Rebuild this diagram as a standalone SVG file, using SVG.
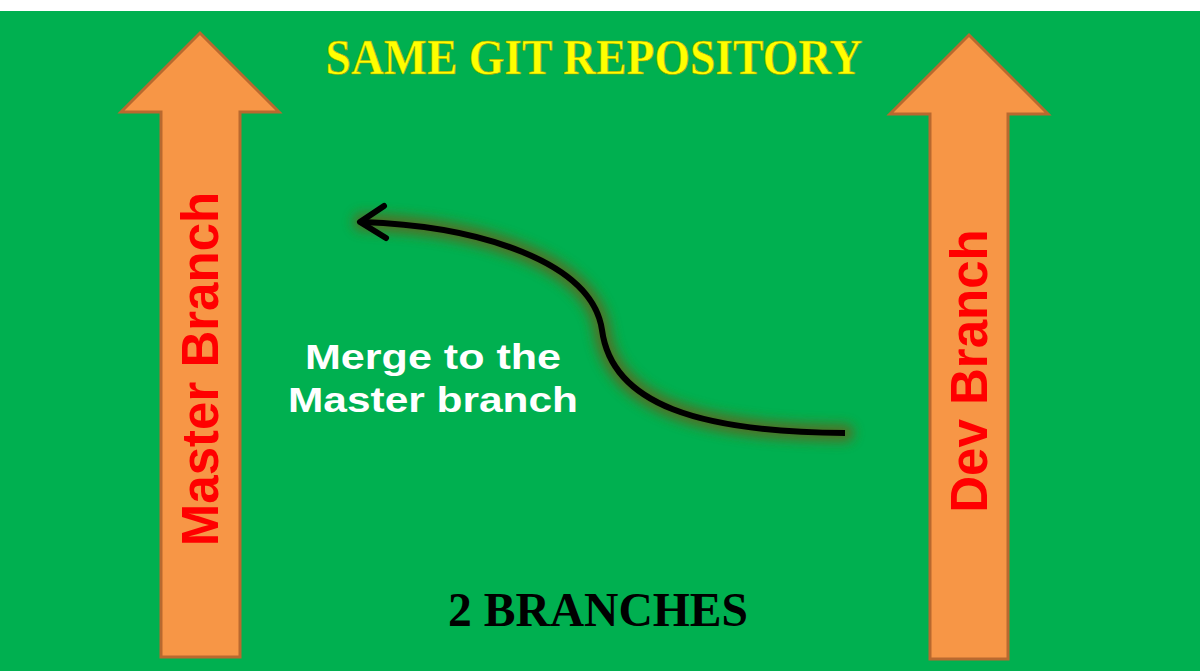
<svg xmlns="http://www.w3.org/2000/svg" width="1200" height="671" viewBox="0 0 1200 671">
<defs>
<style>
.arrow{fill:#F79646;stroke:#B9692F;stroke-width:3}
.br{font-family:"Liberation Sans",Arial,sans-serif;font-weight:bold;font-size:51px;fill:#FF0000;text-anchor:middle}
.title{font-family:"Liberation Serif","Times New Roman",serif;font-weight:bold;text-anchor:middle}
.merge{font-family:"Liberation Sans",Arial,sans-serif;font-weight:bold;font-size:35px;fill:#fff;text-anchor:middle}
</style>
<filter id="glow" x="-20%" y="-20%" width="140%" height="140%"><feGaussianBlur stdDeviation="6"/></filter>
</defs>
<rect width="1200" height="671" fill="#fff"/>
<rect y="11" width="1200" height="660" fill="#00B050"/>
<g id="master">
<polygon class="arrow" points="200,33 279,112 240,112 240,657 161,657 161,112 121,112"/>
<text class="br" transform="translate(218,369) rotate(-90)">Master Branch</text>
</g>
<g id="dev">
<polygon class="arrow" points="969,35 1048,114 1008,114 1008,659 930,659 930,114 890,114"/>
<text class="br" transform="translate(987,371) rotate(-90)">Dev Branch</text>
</g>
<g id="connectors">
<path d="M845,433 C700,432 612,405 602,330 C592,262 480,226 362,222" fill="none" stroke="#5a6a20" stroke-width="18" stroke-linecap="round" filter="url(#glow)" opacity="0.9"/>
<path d="M845,433 C700,432 612,405 602,330 C592,262 480,226 362,222" fill="none" stroke="#000" stroke-width="6"/>
<path d="M384,206 L360,222 L386,238" fill="none" stroke="#000" stroke-width="6" stroke-linecap="round" stroke-linejoin="round"/>
</g>
<g id="merge-label">
<text class="merge" x="433" y="369" textLength="256" lengthAdjust="spacingAndGlyphs">Merge to the</text>
<text class="merge" x="433" y="412" textLength="290" lengthAdjust="spacingAndGlyphs">Master branch</text>
</g>
<g id="title">
<text class="title" x="594" y="74" font-size="50" fill="#FFFF00" stroke="#9c9c00" stroke-width="0.6" textLength="537" lengthAdjust="spacingAndGlyphs">SAME GIT REPOSITORY</text>
</g>
<g id="footer">
<text class="title" x="598" y="626" font-size="48" fill="#000" textLength="300" lengthAdjust="spacingAndGlyphs">2 BRANCHES</text>
</g>
</svg>
